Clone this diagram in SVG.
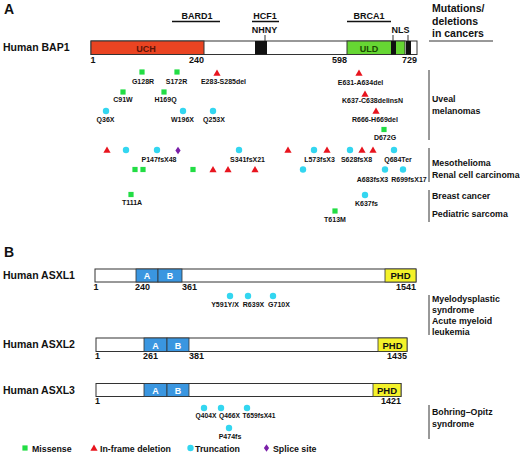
<svg xmlns="http://www.w3.org/2000/svg" width="520" height="454" viewBox="0 0 520 454">
<style>
text{font-family:"Liberation Sans",Arial,sans-serif;font-weight:bold;fill:#111}
.h{font-size:14px}
.nm{font-size:10.5px}
.dom{font-size:9px}
.num{font-size:9px}
.m{font-size:7px;text-anchor:middle}
.d{font-size:8.8px}
.hd{font-size:10.5px}
.bar{fill:#fff;stroke:#333;stroke-width:1}
.ln{stroke:#111;stroke-width:1.5;fill:none}
.vl{stroke:#333;stroke-width:1;fill:none}
.sq{fill:#22dd44}
.tr{fill:#e8141e}
.ci{fill:#33d6f0}
.di{fill:#7a1fa8}
.ab{fill:#3a96e0;stroke:#333;stroke-width:0.8}
.abt{fill:#fff;font-size:9px;text-anchor:middle}
.phd{fill:#f4f22a;stroke:#333;stroke-width:0.8}
.phdt{font-size:9.5px;text-anchor:middle}
</style>
<defs>
<rect id="S" class="sq" x="-2.6" y="-2.6" width="5.2" height="5.2"/>
<polygon id="T" class="tr" points="0,-3.5 3.6,2.8 -3.6,2.8"/>
<circle id="C" class="ci" r="3.2"/>
<polygon id="D" class="di" points="0,-3.8 2.6,0 0,3.8 -2.6,0"/>
</defs>
<text class="h" x="4" y="14">A</text>
<text class="h" x="4" y="257">B</text>

<g id="bap1">
<text class="nm" x="3" y="51">Human BAP1</text>
<rect class="bar" x="91" y="41" width="326" height="13.5"/>
<rect x="91" y="41" width="113" height="13.5" fill="#ea4422" stroke="#333" stroke-width="1"/>
<rect x="255" y="41" width="12" height="13.5" fill="#111"/>
<rect x="347" y="41" width="58" height="13.5" fill="#66d633" stroke="#333" stroke-width="1"/>
<rect x="391" y="41" width="5" height="13.5" fill="#111"/>
<rect x="406" y="41" width="5" height="13.5" fill="#111"/>
<text class="dom" x="146" y="52" text-anchor="middle" style="fill:#5c1408">UCH</text>
<text class="dom" x="369" y="52" text-anchor="middle" style="fill:#1a4a00">ULD</text>
<text class="num" x="93" y="63" text-anchor="middle">1</text>
<text class="num" x="204" y="63" text-anchor="end">240</text>
<text class="num" x="347" y="63" text-anchor="end">598</text>
<text class="num" x="417" y="63" text-anchor="end">729</text>
</g>

<g id="binding">
<text class="dom" x="197" y="19" text-anchor="middle">BARD1</text>
<line class="ln" x1="172" y1="21.5" x2="220" y2="21.5"/>
<text class="dom" x="265" y="19" text-anchor="middle">HCF1</text>
<line class="ln" x1="252" y1="21.5" x2="279" y2="21.5"/>
<text class="dom" x="264.5" y="33" text-anchor="middle">NHNY</text>
<text class="dom" x="369" y="19" text-anchor="middle">BRCA1</text>
<line class="ln" x1="347" y1="21.5" x2="391" y2="21.5"/>
<text class="dom" x="400.5" y="33" text-anchor="middle">NLS</text>
</g>

<g id="connectors">
<line class="vl" x1="265" y1="35" x2="265" y2="41"/>
<line class="vl" x1="393" y1="35" x2="393" y2="41"/>
<line class="vl" x1="408" y1="35" x2="408" y2="41"/>
<line class="vl" x1="429" y1="41" x2="493" y2="41"/>
<line class="vl" x1="429" y1="70" x2="429" y2="140"/>
<line class="vl" x1="429" y1="148" x2="429" y2="182"/>
<line class="vl" x1="429" y1="190" x2="429" y2="222"/>
<line class="vl" x1="429" y1="295" x2="429" y2="335"/>
<line class="vl" x1="429" y1="405" x2="429" y2="439"/>
</g>

<g id="header">
<text class="hd" x="432" y="12">Mutations/</text>
<text class="hd" x="432" y="24.5">deletions</text>
<text class="hd" x="432" y="37">in cancers</text>
</g>

<g id="diseases">
<text class="d" x="432" y="102">Uveal</text>
<text class="d" x="432" y="113.5">melanomas</text>
<text class="d" x="432" y="166">Mesothelioma</text>
<text class="d" x="432" y="177.5">Renal cell carcinoma</text>
<text class="d" x="432" y="199">Breast cancer</text>
<text class="d" x="432" y="217">Pediatric sarcoma</text>
<text class="d" x="432" y="302">Myelodysplastic</text>
<text class="d" x="432" y="313">syndrome</text>
<text class="d" x="432" y="324">Acute myeloid</text>
<text class="d" x="432" y="335">leukemia</text>
<text class="d" x="432" y="415">Bohring–Opitz</text>
<text class="d" x="432" y="426.5">syndrome</text>
</g>

<g id="bap1-uveal">
<use href="#S" x="142" y="72"/><text class="m" x="143" y="84">G128R</text>
<use href="#S" x="177" y="72"/><text class="m" x="176.5" y="84">S172R</text>
<use href="#T" x="217" y="73"/><text class="m" x="223.5" y="84">E283-S285del</text>
<use href="#S" x="123" y="92"/><text class="m" x="123" y="102">C91W</text>
<use href="#S" x="164" y="92"/><text class="m" x="165.5" y="102">H169Q</text>
<use href="#C" x="106" y="111"/><text class="m" x="105.5" y="122">Q36X</text>
<use href="#C" x="183" y="111"/><text class="m" x="182.5" y="122">W196X</text>
<use href="#C" x="213" y="111"/><text class="m" x="214" y="122">Q253X</text>
<use href="#T" x="359" y="73"/><text class="m" x="360.5" y="85">E631-A634del</text>
<use href="#T" x="365" y="94"/><text class="m" x="372.5" y="103">K637-C638delinsN</text>
<use href="#T" x="376" y="111"/><text class="m" x="375" y="122">R666-H669del</text>
<use href="#S" x="384" y="129.5"/><text class="m" x="385" y="140">D672G</text>
</g>

<g id="bap1-meso">
<use href="#T" x="107" y="150"/>
<use href="#C" x="126" y="150"/>
<use href="#C" x="157" y="150"/>
<use href="#D" x="178" y="150.5"/>
<use href="#C" x="239" y="150"/>
<use href="#T" x="288" y="150"/>
<use href="#C" x="314" y="150"/>
<use href="#T" x="327" y="150"/>
<use href="#C" x="350" y="150"/>
<use href="#T" x="362" y="150"/>
<use href="#T" x="373" y="150"/>
<use href="#C" x="394" y="150"/>
<text class="m" x="159" y="162">P147fsX48</text>
<text class="m" x="247.5" y="162">S341fsX21</text>
<text class="m" x="319.5" y="162">L573fsX3</text>
<text class="m" x="356.5" y="162">S628fsX8</text>
<text class="m" x="398" y="162">Q684Ter</text>
<use href="#S" x="135" y="169.5"/>
<use href="#S" x="143" y="169.5"/>
<use href="#S" x="193" y="169.5"/>
<use href="#T" x="213" y="169.5"/>
<use href="#T" x="228" y="169.5"/>
<use href="#T" x="255" y="169.5"/>
<use href="#C" x="303" y="169.5"/>
<use href="#C" x="385" y="169.5"/>
<use href="#C" x="403" y="169.5"/>
<text class="m" x="372.5" y="182">A683fsX3</text>
<text class="m" x="409" y="182">R699fsX17</text>
</g>

<g id="bap1-other">
<use href="#S" x="131" y="194.5"/><text class="m" x="132" y="205">T111A</text>
<use href="#C" x="365" y="195"/><text class="m" x="366.5" y="206">K637fs</text>
<use href="#S" x="335" y="211"/><text class="m" x="335" y="222">T613M</text>
</g>

<g id="asxl1">
<text class="nm" x="3" y="279">Human ASXL1</text>
<rect class="bar" x="95" y="269" width="321" height="13"/>
<rect class="ab" x="136" y="269" width="22" height="13"/>
<rect class="ab" x="158" y="269" width="24" height="13"/>
<rect class="phd" x="385" y="269" width="31" height="13"/>
<text class="abt" x="147" y="279">A</text>
<text class="abt" x="170" y="279">B</text>
<text class="phdt" x="400.5" y="279">PHD</text>
<text class="num" x="96" y="290" text-anchor="middle">1</text>
<text class="num" x="135" y="290">240</text>
<text class="num" x="182" y="290">361</text>
<text class="num" x="416" y="290" text-anchor="end">1541</text>
<use href="#C" x="230" y="296"/><text class="m" x="225" y="307">Y591Y/X</text>
<use href="#C" x="248" y="296"/><text class="m" x="253.5" y="307">R639X</text>
<use href="#C" x="273" y="296"/><text class="m" x="279" y="307">G710X</text>
</g>

<g id="asxl2">
<text class="nm" x="3" y="348">Human ASXL2</text>
<rect class="bar" x="96" y="338" width="311" height="13.5"/>
<rect class="ab" x="144" y="338" width="23" height="13.5"/>
<rect class="ab" x="167" y="338" width="22" height="13.5"/>
<rect class="phd" x="378" y="338" width="29" height="13.5"/>
<text class="abt" x="155.5" y="348.5">A</text>
<text class="abt" x="178" y="348.5">B</text>
<text class="phdt" x="392.5" y="348.5">PHD</text>
<text class="num" x="97.5" y="359" text-anchor="middle">1</text>
<text class="num" x="143" y="359">261</text>
<text class="num" x="189" y="359">381</text>
<text class="num" x="407" y="359" text-anchor="end">1435</text>
</g>

<g id="asxl3">
<text class="nm" x="3" y="394">Human ASXL3</text>
<rect class="bar" x="96" y="383.5" width="305" height="13"/>
<rect class="ab" x="144" y="383.5" width="23" height="13"/>
<rect class="ab" x="167" y="383.5" width="22" height="13"/>
<rect class="phd" x="373" y="383.5" width="28" height="13"/>
<text class="abt" x="155.5" y="393.5">A</text>
<text class="abt" x="178" y="393.5">B</text>
<text class="phdt" x="387" y="393.5">PHD</text>
<text class="num" x="97.5" y="404" text-anchor="middle">1</text>
<text class="num" x="401" y="404" text-anchor="end">1421</text>
<use href="#C" x="204" y="408"/><text class="m" x="206" y="418" style="font-size:6.7px">Q404X</text>
<use href="#C" x="221" y="408"/><text class="m" x="229.5" y="418" style="font-size:6.7px">Q466X</text>
<use href="#C" x="247" y="408"/><text class="m" x="259" y="418" style="font-size:6.7px">T659fsX41</text>
<use href="#C" x="229" y="428"/><text class="m" x="230" y="439">P474fs</text>
</g>

<g id="legend">
<use href="#S" x="25" y="448"/><text class="d" x="32" y="451.5">Missense</text>
<use href="#T" x="94" y="448"/><text class="d" x="100" y="451.5">In-frame deletion</text>
<use href="#C" x="190.5" y="448"/><text class="d" x="195" y="451.5">Truncation</text>
<use href="#D" x="266.5" y="448"/><text class="d" x="273" y="451.5">Splice site</text>
</g>
</svg>
